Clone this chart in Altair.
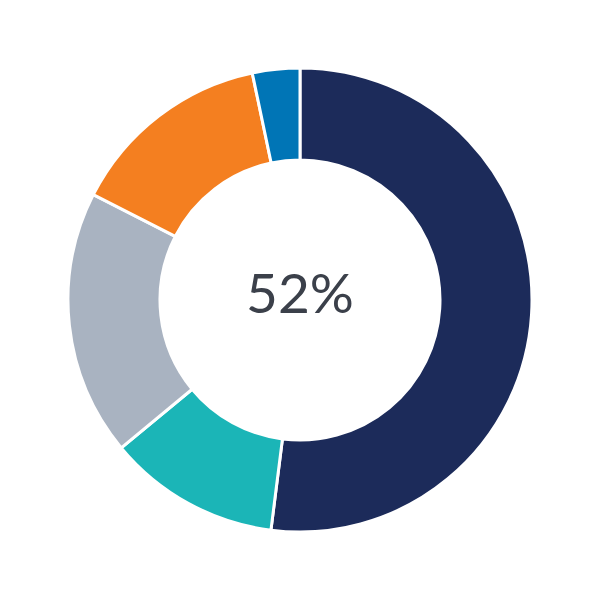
import altair as alt
import pandas as pd

categories = ["A", "B", "C", "D", "E"]
values = [52, 12, 18.5, 14.2, 3.3]
colors = ["#1c2b5a", "#1bb5b7", "#a9b3c1", "#f47f20", "#0075b6"]
center_label = "52%"

df = pd.DataFrame({"cat": categories, "value": values, "order": list(range(len(categories)))})

arcs = alt.Chart(df).mark_arc(radius=232, innerRadius=140, stroke="white", strokeWidth=3).encode(
    theta=alt.Theta("value:Q", stack=True),
    order=alt.Order("order:Q"),
    color=alt.Color("cat:N", scale=alt.Scale(domain=categories, range=colors), legend=None),
)

text = alt.Chart(pd.DataFrame({"t": [center_label]})).mark_text(
    fontSize=55, font="Lato", fontWeight="normal", color="#3b404a", baseline="middle", align="center"
).encode(text="t:N", x=alt.value(292), y=alt.value(288))

chart = alt.layer(arcs, text).properties(width=584, height=584, padding=0).configure_view(stroke=None)
chart.save("out.html", embed_options={"renderer": "svg", "actions": False})
